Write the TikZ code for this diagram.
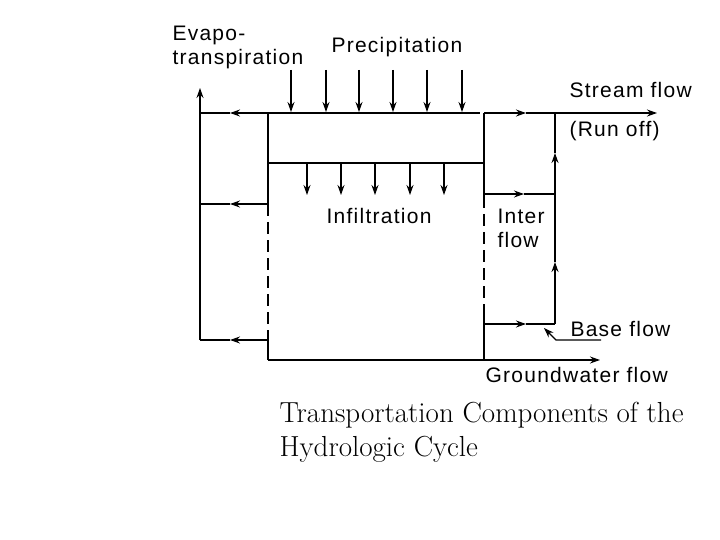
\documentclass[tikz,border=0pt]{standalone}
\usepackage{fontspec}
\setsansfont{Liberation Sans}[LetterSpace=6]
\usetikzlibrary{arrows.meta}
\begin{document}
\begin{tikzpicture}[x=1pt,y=-1pt,line width=1.1pt,
  ar/.style={-{Stealth[length=10pt,width=7pt]}},
  lbl/.style={font=\sffamily\fontsize{21}{24}\selectfont,inner sep=0pt,anchor=west,align=left},
  dsh/.style={dash pattern=on 12pt off 6pt}]
\useasboundingbox (0,0) rectangle (720,540);
\coordinate (L1) at (200,113); \coordinate (L2) at (200,204); \coordinate (L3) at (200,340);
\coordinate (I1) at (268,113); \coordinate (I2) at (268,204); \coordinate (I3) at (268,340); \coordinate (I4) at (268,360);
\draw[ar] (L3) -- (200,88);
\foreach \y in {113,204,340}{
  \draw[ar] (268,\y) -- (230,\y); \draw (230,\y) -- (200,\y);}
\draw (I1) -- (I2); \draw[dsh] (I2) -- (I3); \draw (I3) -- (I4);
\draw (I1) -- (480,113);
\foreach \x in {291,326,359,393,427,462}{\draw[ar] (\x,70) -- (\x,112);}
\draw (268,163) -- (484,163);
\foreach \x in {307,341,375,410,444}{\draw[ar] (\x,163) -- (\x,195);}
\coordinate (R1) at (484,113); \coordinate (R2) at (484,196); \coordinate (R3) at (484,311); \coordinate (R4) at (484,360);
\draw (R1) -- (R2); \draw[dsh] (R2) -- (R3); \draw (R3) -- (R4);
\draw[ar] (I4) -- (600,360);
\draw[ar] (R1) -- (526,113); \draw[ar] (526,113) -- (657,113);
\draw[ar] (484,194) -- (524,194); \draw (524,194) -- (555,194);
\draw[ar] (484,324) -- (526,324); \draw (526,324) -- (555,324);
\coordinate (C1) at (555,324); \coordinate (C2) at (555,113);
\draw[ar] (C1) -- (555,262); \draw[ar] (555,262) -- (555,153); \draw (555,153) -- (C2);
\draw[ar] (601,340) -- (556,340) -- (544,328);
\node[lbl] (ev) at (172,47) {Evapo-\\transpiration};
\node[lbl] (pr) at (331,47) {Precipitation};
\node[lbl] (sf) at (569,90) {Stream flow};
\node[lbl] (ro) at (569,131) {(Run off)};
\node[lbl] (in) at (326,216) {Infiltration};
\node[lbl] (it) at (497,228) {Inter\\flow};
\node[lbl] (bf) at (570,329) {Base flow};
\node[lbl] (gw) at (485,375) {Groundwater flow};
\node[inner sep=0pt,anchor=west,align=left,font=\fontsize{29}{34}\selectfont] (cap) at (279,432) {Transportation Components of the\\Hydrologic Cycle};
\end{tikzpicture}
\end{document}
